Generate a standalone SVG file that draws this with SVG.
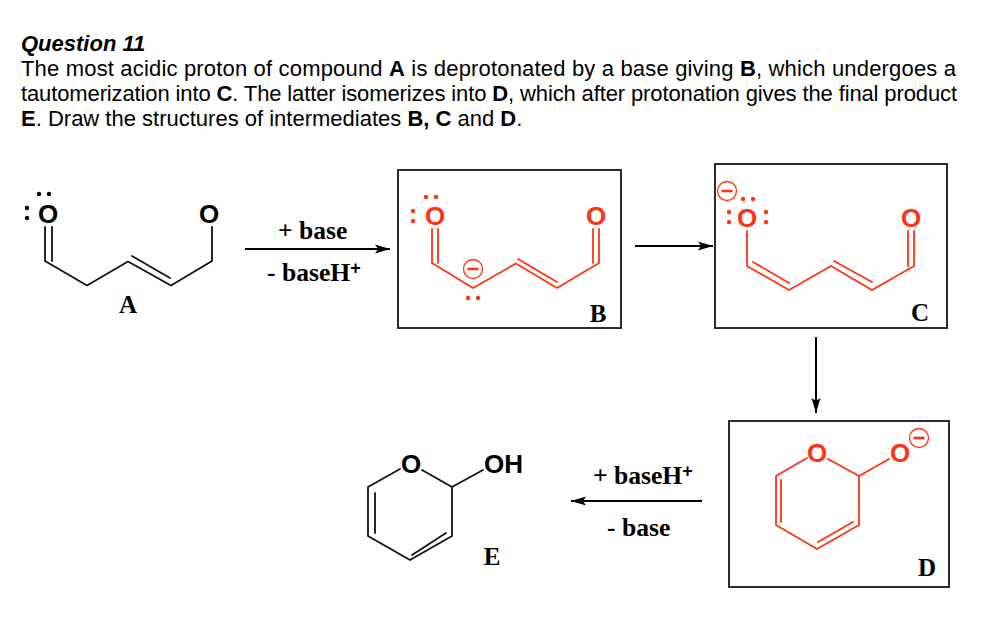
<svg xmlns="http://www.w3.org/2000/svg" width="993" height="644" viewBox="0 0 993 644">
<style>
text{font-family:"Liberation Sans",Arial,sans-serif}
.q{font-size:22px;fill:#000}
.bk{fill:none;stroke:#111;stroke-width:1.8;stroke-linecap:round;stroke-linejoin:miter}
.rd{fill:none;stroke:#ff3312;stroke-width:1.8;stroke-linecap:round;stroke-linejoin:miter}
.box{fill:#fff;stroke:#222;stroke-width:1.9}
.ao{font-size:26px;text-anchor:middle;fill:#000;font-weight:bold}
.ar{font-size:26px;text-anchor:middle;fill:#ff3312;font-weight:bold}
.lb{font-family:"Liberation Serif","Times New Roman",serif;font-weight:bold;font-size:25px;text-anchor:middle;fill:#000}
.rg{font-family:"Liberation Serif","Times New Roman",serif;font-weight:bold;font-size:25.6px;fill:#000}
.sup{font-family:"Liberation Sans",Arial,sans-serif;font-size:18px}
.dk{fill:#000}.dr{fill:#ff3312}
.mc{fill:none;stroke:#ff3312;stroke-width:1.3}
.mm{stroke:#ff3312;stroke-width:2.6}
.cn{stroke:#000;stroke-width:2;fill:none}
</style>
<defs>
<marker id="ah" markerUnits="userSpaceOnUse" markerWidth="16" markerHeight="11" refX="15" refY="5.500" orient="auto"><path d="M0 1L15 5.500L0 10L3 5.500Z" fill="#000"/></marker>
</defs>
<g id="question">
<text x="21" y="51" class="q" font-weight="bold" font-style="italic">Question 11</text>
<text x="21" y="76" class="q" textLength="935" lengthAdjust="spacing">The most acidic proton of compound <tspan font-weight="bold">A</tspan> is deprotonated by a base giving <tspan font-weight="bold">B</tspan>, which undergoes a</text>
<text x="21" y="101" class="q" textLength="936" lengthAdjust="spacing">tautomerization into <tspan font-weight="bold">C</tspan>. The latter isomerizes into <tspan font-weight="bold">D</tspan>, which after protonation gives the final product</text>
<text x="21" y="126" class="q"><tspan font-weight="bold">E</tspan>. Draw the structures of intermediates <tspan font-weight="bold">B, C</tspan> and <tspan font-weight="bold">D</tspan>.</text>
</g>
<g id="connectors">
<path class="cn" d="M245 249H390" marker-end="url(#ah)"/>
<path class="cn" d="M635 246H713" marker-end="url(#ah)"/>
<path class="cn" d="M816 337V413" marker-end="url(#ah)"/>
<path class="cn" d="M702 501H571" marker-end="url(#ah)"/>
</g>
<g id="reagents">
<text x="278" y="239" class="rg">+ base</text>
<text x="267" y="281" class="rg">- baseH<tspan class="sup" dy="-7">+</tspan></text>
<text x="593" y="484" class="rg">+ baseH<tspan class="sup" dy="-7">+</tspan></text>
<text x="607" y="536" class="rg">- base</text>
</g>
<g id="node-a">
<path class="bk" d="M45 227V261L87 285.500L128 261.500L171 285.500L212 261V227M52 227V261M132 256L170 278"/>
<text x="48" y="223" class="ao">O</text>
<text x="209" y="223" class="ao">O</text>
<circle class="dk" cx="39" cy="194" r="2.2"/><circle class="dk" cx="49" cy="194" r="2.2"/>
<circle class="dk" cx="27" cy="208" r="2.2"/><circle class="dk" cx="27" cy="218" r="2.2"/>
<text x="128" y="313" class="lb">A</text>
</g>
<g id="node-b">
<rect class="box" x="398" y="170" width="223" height="158"/>
<path class="rd" d="M438 229V263M432 229V263L473 288L516 263.500L557 288L599 263V229M593 229V263M518 259L557 282"/>
<text x="435" y="225" class="ar">O</text>
<text x="596" y="225" class="ar">O</text>
<circle class="dr" cx="426" cy="197" r="2.2"/><circle class="dr" cx="436" cy="197" r="2.2"/>
<circle class="dr" cx="413" cy="211" r="2.2"/><circle class="dr" cx="413" cy="221" r="2.2"/>
<circle class="dr" cx="468" cy="298" r="2.2"/><circle class="dr" cx="478" cy="298" r="2.2"/>
<circle class="mc" cx="473" cy="269" r="9.5"/><path class="mm" d="M467.500 269H478.500"/>
<text x="598" y="322" class="lb">B</text>
</g>
<g id="node-c">
<rect class="box" x="715" y="164" width="232" height="164"/>
<path class="rd" d="M747 231V266L789 290L831 266L872 290L914 266V231M908 231V266M753 262L789 283M834 261L872 282"/>
<text x="747" y="227" class="ar">O</text>
<text x="911" y="227" class="ar">O</text>
<circle class="dr" cx="743" cy="199" r="2.2"/><circle class="dr" cx="753" cy="199" r="2.2"/>
<circle class="dr" cx="729" cy="212" r="2.2"/><circle class="dr" cx="729" cy="222" r="2.2"/>
<circle class="dr" cx="766" cy="212" r="2.2"/><circle class="dr" cx="766" cy="222" r="2.2"/>
<circle class="mc" cx="727" cy="191" r="9.5"/><path class="mm" d="M721.500 191H732.500"/>
<text x="920" y="321" class="lb">C</text>
</g>
<g id="node-d">
<rect class="box" x="729" y="421" width="220" height="166"/>
<path class="rd" d="M807 458L776 476V525L817 549L859 525V476L828 459M859 476L889 459M781 480V522M818 542L853 522"/>
<text x="817" y="462" class="ar">O</text>
<text x="900" y="462" class="ar">O</text>
<circle class="mc" cx="919" cy="438" r="9.5"/><path class="mm" d="M913.500 438H924.500"/>
<text x="927" y="576" class="lb">D</text>
</g>
<g id="node-e">
<path class="bk" d="M400 469L368 487V536L410 560L452 536V487L422 470M452 487L483 470M375 493V533M412 555L446 533"/>
<text x="411" y="473" class="ao">O</text>
<text x="484" y="473" class="ao" style="text-anchor:start">OH</text>
<text x="492" y="565" class="lb">E</text>
</g>
</svg>
